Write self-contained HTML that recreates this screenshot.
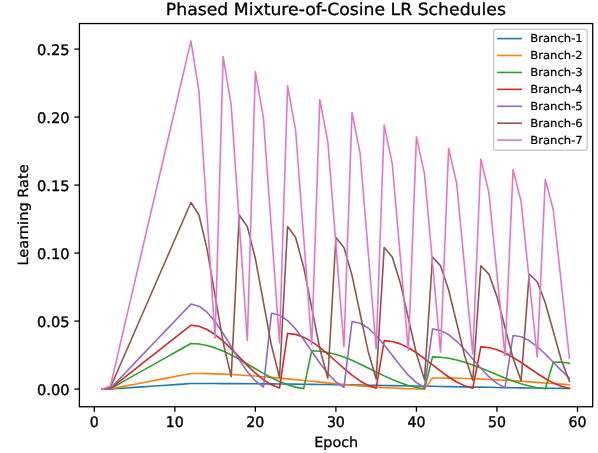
<!DOCTYPE html>
<html><head><meta charset="utf-8"><title>Phased Mixture-of-Cosine LR Schedules</title>
<style>html,body{margin:0;padding:0;background:#fff}svg{display:block}</style></head>
<body>
<svg width="598" height="453" viewBox="0 0 598 453" font-family="'DejaVu Sans','Liberation Sans',sans-serif" fill="#000" text-rendering="geometricPrecision">
<style>text{stroke:#000;stroke-width:0.3px;stroke-linejoin:round}.lg{stroke-width:0.22px}.tk{stroke-width:0.38px}</style>
<rect width="598" height="453" fill="#fff"/>
<defs><clipPath id="c"><rect x="79.4" y="23.55" width="513.30" height="383.20"/></clipPath></defs>
<g stroke="#000" stroke-width="1.3" fill="none">
<path d="M94.30 406.75v5.0"/>
<path d="M174.83 406.75v5.0"/>
<path d="M255.36 406.75v5.0"/>
<path d="M335.89 406.75v5.0"/>
<path d="M416.42 406.75v5.0"/>
<path d="M496.95 406.75v5.0"/>
<path d="M577.48 406.75v5.0"/>
<path d="M79.4 389.10h-5.0"/>
<path d="M79.4 321.10h-5.0"/>
<path d="M79.4 253.10h-5.0"/>
<path d="M79.4 185.10h-5.0"/>
<path d="M79.4 117.10h-5.0"/>
<path d="M79.4 49.10h-5.0"/>
</g>
<g clip-path="url(#c)" fill="none" stroke-linejoin="round" stroke-linecap="square" stroke-width="1.6">
<polyline points="102.35,389.10 110.41,389.05 118.46,388.50 126.51,387.95 134.56,387.39 142.62,386.84 150.67,386.29 158.72,385.74 166.78,385.18 174.83,384.63 182.88,384.08 190.94,383.52 198.99,383.53 207.04,383.54 215.10,383.56 223.15,383.58 231.20,383.62 239.25,383.66 247.31,383.71 255.36,383.77 263.41,383.83 271.47,383.90 279.52,383.97 287.57,384.06 295.62,384.15 303.68,384.24 311.73,384.34 319.78,384.45 327.84,384.56 335.89,384.67 343.94,384.79 352.00,384.92 360.05,385.05 368.10,385.18 376.16,385.31 384.21,385.45 392.26,385.59 400.31,385.73 408.37,385.88 416.42,386.02 424.47,386.17 432.53,386.31 440.58,386.46 448.63,386.60 456.69,386.75 464.74,386.89 472.79,387.03 480.84,387.17 488.90,387.31 496.95,387.45 505.00,387.58 513.06,387.71 521.11,387.83 529.16,387.95 537.22,388.07 545.27,388.18 553.32,388.28 561.37,388.38 569.43,388.48" stroke="#1f77b4"/>
<polyline points="102.35,389.10 110.41,388.97 118.46,387.41 126.51,385.86 134.56,384.31 142.62,382.76 150.67,381.21 158.72,379.66 166.78,378.11 174.83,376.56 182.88,375.01 190.94,373.46 198.99,373.50 207.04,373.63 215.10,373.84 223.15,374.14 231.20,374.51 239.25,374.95 247.31,375.47 255.36,376.05 263.41,376.68 271.47,377.37 279.52,378.10 287.57,378.86 295.62,379.65 303.68,380.46 311.73,381.28 319.78,382.10 327.84,382.91 335.89,383.70 343.94,384.46 352.00,385.19 360.05,385.88 368.10,386.51 376.16,387.09 384.21,387.61 392.26,388.05 400.31,388.42 408.37,388.72 416.42,388.93 424.47,389.06 432.53,378.03 440.58,378.06 448.63,378.15 456.69,378.30 464.74,378.51 472.79,378.77 480.84,379.08 488.90,379.45 496.95,379.86 505.00,380.31 513.06,380.80 521.11,381.31 529.16,381.85 537.22,382.41 545.27,382.98 553.32,383.56 561.37,384.14 569.43,384.71" stroke="#ff7f0e"/>
<polyline points="102.35,389.10 110.41,388.71 118.46,384.19 126.51,379.67 134.56,375.16 142.62,370.64 150.67,366.12 158.72,361.61 166.78,357.09 174.83,352.57 182.88,348.06 190.94,343.54 198.99,344.04 207.04,345.51 215.10,347.89 223.15,351.08 231.20,354.93 239.25,359.28 247.31,363.94 255.36,368.70 263.41,373.36 271.47,377.71 279.52,381.56 287.57,384.75 295.62,387.13 303.68,388.60 311.73,350.76 319.78,351.18 327.84,352.42 335.89,354.43 343.94,357.11 352.00,360.35 360.05,364.01 368.10,367.93 376.16,371.94 384.21,375.86 392.26,379.52 400.31,382.76 408.37,385.44 416.42,387.44 424.47,388.68 432.53,356.84 440.58,357.20 448.63,358.24 456.69,359.92 464.74,362.18 472.79,364.91 480.84,367.99 488.90,371.29 496.95,374.66 505.00,377.96 513.06,381.04 521.11,383.76 529.16,386.02 537.22,387.71 545.27,388.75 553.32,361.96 561.37,362.26 569.43,363.13" stroke="#2ca02c"/>
<polyline points="102.35,389.10 110.41,388.55 118.46,382.21 126.51,375.88 134.56,369.54 142.62,363.20 150.67,356.87 158.72,350.53 166.78,344.19 174.83,337.85 182.88,331.52 190.94,325.18 198.99,326.27 207.04,329.46 215.10,334.54 223.15,341.16 231.20,348.87 239.25,357.14 247.31,365.41 255.36,373.12 263.41,379.74 271.47,384.82 279.52,388.01 287.57,333.43 295.62,334.38 303.68,337.16 311.73,341.58 319.78,347.35 327.84,354.06 335.89,361.26 343.94,368.47 352.00,375.18 360.05,380.95 368.10,385.37 376.16,388.15 384.21,340.61 392.26,341.44 400.31,343.86 408.37,347.71 416.42,352.73 424.47,358.58 432.53,364.85 440.58,371.13 448.63,376.98 456.69,382.00 464.74,385.85 472.79,388.27 480.84,346.87 488.90,347.59 496.95,349.69 505.00,353.05 513.06,357.42 521.11,362.52 529.16,367.98 537.22,373.45 545.27,378.54 553.32,382.91 561.37,386.27 569.43,388.38" stroke="#d62728"/>
<polyline points="102.35,389.10 110.41,388.37 118.46,379.94 126.51,371.52 134.56,363.09 142.62,354.66 150.67,346.23 158.72,337.81 166.78,329.38 174.83,320.95 182.88,312.53 190.94,304.10 198.99,306.18 207.04,312.22 215.10,321.62 223.15,333.47 231.20,346.60 239.25,359.73 247.31,371.58 255.36,380.98 263.41,387.02 271.47,313.34 279.52,315.20 287.57,320.58 295.62,328.96 303.68,339.52 311.73,351.22 319.78,362.93 327.84,373.49 335.89,381.87 343.94,387.25 352.00,321.58 360.05,323.23 368.10,328.03 376.16,335.50 384.21,344.91 392.26,355.34 400.31,365.77 408.37,375.18 416.42,382.65 424.47,387.45 432.53,328.92 440.58,330.39 448.63,334.67 456.69,341.32 464.74,349.71 472.79,359.01 480.84,368.31 488.90,376.70 496.95,383.35 505.00,387.63 513.06,335.46 521.11,336.78 529.16,340.59 537.22,346.52 545.27,354.00 553.32,362.28 561.37,370.57 569.43,378.05" stroke="#9467bd"/>
<polyline points="102.35,389.10 110.41,387.50 118.46,369.00 126.51,350.50 134.56,332.00 142.62,313.50 150.67,295.00 158.72,276.50 166.78,258.00 174.83,239.51 182.88,221.01 190.94,202.51 198.99,215.01 207.04,249.16 215.10,295.80 223.15,342.45 231.20,376.60 239.25,214.96 247.31,226.63 255.36,258.50 263.41,302.03 271.47,345.57 279.52,377.43 287.57,226.58 295.62,237.47 303.68,267.21 311.73,307.84 319.78,348.47 327.84,378.21 335.89,237.43 343.94,247.59 352.00,275.35 360.05,313.26 368.10,351.18 376.16,378.94 384.21,247.55 392.26,257.03 400.31,282.94 408.37,318.32 416.42,353.71 424.47,379.62 432.53,257.00 440.58,265.84 448.63,290.02 456.69,323.05 464.74,356.07 472.79,380.25 480.84,265.81 488.90,274.07 496.95,296.63 505.00,327.46 513.06,358.28 521.11,380.84 529.16,274.04 537.22,281.75 545.27,302.80 553.32,331.57 561.37,360.33 569.43,381.39" stroke="#8c564b"/>
<polyline points="102.35,389.10 110.41,386.11 118.46,351.59 126.51,317.07 134.56,282.56 142.62,248.04 150.67,213.52 158.72,179.01 166.78,144.49 174.83,109.97 182.88,75.46 190.94,40.94 198.99,91.93 207.04,215.02 215.10,338.11 223.15,56.61 231.20,105.30 239.25,222.85 247.31,340.41 255.36,71.57 263.41,118.07 271.47,230.33 279.52,342.60 287.57,85.86 295.62,130.27 303.68,237.48 311.73,344.69 319.78,99.50 327.84,141.91 335.89,244.30 343.94,346.69 352.00,112.54 360.05,153.04 368.10,250.82 376.16,348.60 384.21,124.98 392.26,163.66 400.31,257.04 408.37,350.42 416.42,136.87 424.47,173.81 432.53,262.98 440.58,352.16 448.63,148.22 456.69,183.49 464.74,268.66 472.79,353.82 480.84,159.06 488.90,192.75 496.95,274.08 505.00,355.41 513.06,169.41 521.11,201.58 529.16,279.25 537.22,356.93 545.27,179.29 553.32,210.02 561.37,284.20 569.43,358.37" stroke="#e377c2"/>
</g>
<rect x="79.4" y="23.55" width="513.30" height="383.20" fill="none" stroke="#000" stroke-width="1.3"/>
<text x="89.80" y="427.40" font-size="14.6" class="tk" textLength="9.00" lengthAdjust="spacingAndGlyphs">0</text>
<text x="165.83" y="427.40" font-size="14.6" class="tk" textLength="17.99" lengthAdjust="spacingAndGlyphs">10</text>
<text x="246.36" y="427.40" font-size="14.6" class="tk" textLength="17.99" lengthAdjust="spacingAndGlyphs">20</text>
<text x="326.89" y="427.40" font-size="14.6" class="tk" textLength="17.99" lengthAdjust="spacingAndGlyphs">30</text>
<text x="407.42" y="427.40" font-size="14.6" class="tk" textLength="17.99" lengthAdjust="spacingAndGlyphs">40</text>
<text x="487.95" y="427.40" font-size="14.6" class="tk" textLength="17.99" lengthAdjust="spacingAndGlyphs">50</text>
<text x="568.48" y="427.40" font-size="14.6" class="tk" textLength="17.99" lengthAdjust="spacingAndGlyphs">60</text>
<text x="36.97" y="394.60" font-size="14.5" class="tk" textLength="32.63" lengthAdjust="spacingAndGlyphs">0.00</text>
<text x="36.97" y="326.60" font-size="14.5" class="tk" textLength="32.63" lengthAdjust="spacingAndGlyphs">0.05</text>
<text x="36.97" y="258.60" font-size="14.5" class="tk" textLength="32.63" lengthAdjust="spacingAndGlyphs">0.10</text>
<text x="36.97" y="190.60" font-size="14.5" class="tk" textLength="32.63" lengthAdjust="spacingAndGlyphs">0.15</text>
<text x="36.97" y="122.60" font-size="14.5" class="tk" textLength="32.63" lengthAdjust="spacingAndGlyphs">0.20</text>
<text x="36.97" y="54.60" font-size="14.5" class="tk" textLength="32.63" lengthAdjust="spacingAndGlyphs">0.25</text>
<text x="165.81" y="14.75" font-size="16.7" textLength="340.13" lengthAdjust="spacingAndGlyphs">Phased Mixture-of-Cosine LR Schedules</text>
<text x="314.19" y="446.60" font-size="14.0" textLength="44.03" lengthAdjust="spacingAndGlyphs">Epoch</text>
<text transform="translate(28.15 265.62) rotate(-90)" font-size="14.0" textLength="101.29" lengthAdjust="spacingAndGlyphs">Learning Rate</text>
<rect x="493.7" y="29.3" width="93.50" height="121.00" rx="2.3" fill="#fff" fill-opacity="0.8" stroke="#ccc" stroke-width="1.44"/>
<path d="M497.1 38.60H521.95" stroke="#1f77b4" stroke-width="1.6" fill="none"/>
<text x="530.26" y="42.45" font-size="11.0" textLength="52.51" lengthAdjust="spacingAndGlyphs" class="lg">Branch-1</text>
<path d="M497.1 55.52H521.95" stroke="#ff7f0e" stroke-width="1.6" fill="none"/>
<text x="530.26" y="59.37" font-size="11.0" textLength="52.51" lengthAdjust="spacingAndGlyphs" class="lg">Branch-2</text>
<path d="M497.1 72.44H521.95" stroke="#2ca02c" stroke-width="1.6" fill="none"/>
<text x="530.26" y="76.29" font-size="11.0" textLength="52.51" lengthAdjust="spacingAndGlyphs" class="lg">Branch-3</text>
<path d="M497.1 89.36H521.95" stroke="#d62728" stroke-width="1.6" fill="none"/>
<text x="530.26" y="93.21" font-size="11.0" textLength="52.51" lengthAdjust="spacingAndGlyphs" class="lg">Branch-4</text>
<path d="M497.1 106.28H521.95" stroke="#9467bd" stroke-width="1.6" fill="none"/>
<text x="530.26" y="110.13" font-size="11.0" textLength="52.51" lengthAdjust="spacingAndGlyphs" class="lg">Branch-5</text>
<path d="M497.1 123.20H521.95" stroke="#8c564b" stroke-width="1.6" fill="none"/>
<text x="530.26" y="127.05" font-size="11.0" textLength="52.51" lengthAdjust="spacingAndGlyphs" class="lg">Branch-6</text>
<path d="M497.1 140.12H521.95" stroke="#e377c2" stroke-width="1.6" fill="none"/>
<text x="530.26" y="143.97" font-size="11.0" textLength="52.51" lengthAdjust="spacingAndGlyphs" class="lg">Branch-7</text>
</svg>
</body></html>
